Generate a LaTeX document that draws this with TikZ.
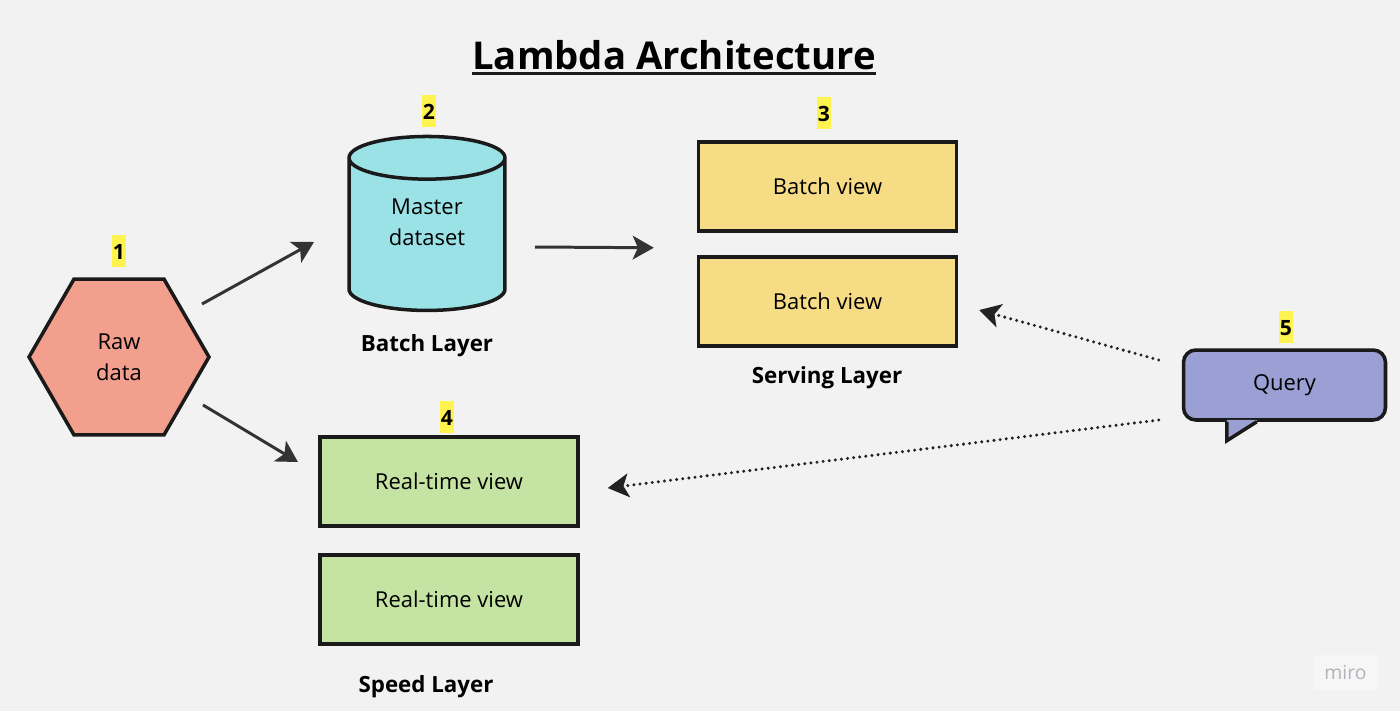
\documentclass[tikz,border=0pt]{standalone}
\usepackage{fontspec}
\setmainfont{Open Sans}
\usetikzlibrary{arrows.meta,shapes.geometric,calc}

\definecolor{bgcol}{HTML}{F2F2F2}
\definecolor{edgecol}{HTML}{1A1A1A}
\definecolor{arrowcol}{HTML}{333333}
\definecolor{dotcol}{HTML}{222222}
\definecolor{rawcol}{HTML}{F29F8D}
\definecolor{dbcol}{HTML}{9AE2E6}
\definecolor{batchcol}{HTML}{F6DC84}
\definecolor{speedcol}{HTML}{C5E3A2}
\definecolor{querycol}{HTML}{9A9FD4}
\definecolor{hlcol}{HTML}{FFF44F}
\definecolor{markcol}{HTML}{B2B2BA}

\tikzset{
  view/.style={draw=edgecol, line width=2pt, minimum width=5.16cm, minimum height=1.78cm,
    font=\fontsize{12.5}{15}\selectfont},
  num/.style={fill=hlcol, inner xsep=0.4pt, inner ysep=0pt, text height=14pt, text depth=4pt,
    font=\fontsize{12}{14}\bfseries\selectfont},
  layer/.style={font=\fontsize{12.7}{15}\bfseries\selectfont},
  flow/.style={draw=arrowcol, line width=1.7pt, -{Stealth[length=12pt,width=13.5pt,inset=3pt]}},
  ask/.style={flow, draw=dotcol, line width=1.9pt, dash pattern=on 0pt off 3.5pt, line cap=round}
}

\begin{document}
\begin{tikzpicture}[x=0.02cm,y=-0.02cm]
  \fill[bgcol] (0,0) rectangle (1400,711);

  % title
  \node[inner sep=0pt, text depth=0pt, font=\fontsize{21.8}{26}\bfseries\selectfont] (title) at (674,55) {Lambda Architecture};
  \draw[edgecol, line width=1.7pt] ($(title.south west)+(0,4)$) -- ($(title.south east)+(0,4)$);

  % raw data
  \node[regular polygon, regular polygon sides=6, minimum size=3.6cm, inner sep=0pt,
    draw=edgecol, fill=rawcol, line width=2pt, align=center, font=\fontsize{12.5}{17.5}\selectfont] (raw) at (119,357) {Raw\\data};
  \node[num] (n1) at (119,251) {1};

  % batch layer
  \node[cylinder, shape border rotate=90, aspect=0.56, minimum width=3.12cm, minimum height=3.48cm, inner sep=0pt,
    draw=edgecol, fill=dbcol, line width=2pt, align=center, font=\fontsize{12.5}{17.5}\selectfont] (master) at (427,235)
    {\phantom{Master}\\\phantom{dataset}};
  \node[align=center, font=\fontsize{12.5}{17.5}\selectfont] (mastertext) at (427,222) {Master\\dataset};
  \node[num] (n2) at (429,111) {2};
  \node[layer] (batchlayer) at (427,346) {Batch Layer};

  % serving layer
  \node[view, fill=batchcol] (bv1) at (827.5,186.5) {Batch view};
  \node[view, fill=batchcol] (bv2) at (827.5,301.5) {Batch view};
  \node[num] (n3) at (824,113) {3};
  \node[layer] (servinglayer) at (827,378) {Serving Layer};

  % speed layer
  \node[view, fill=speedcol] (rt1) at (449,481.5) {Real-time view};
  \node[view, fill=speedcol] (rt2) at (449,599.5) {Real-time view};
  \node[num] (n4) at (447,417) {4};
  \node[layer] (speedlayer) at (426,687) {Speed Layer};

  % query
  \node[minimum width=4.04cm, minimum height=1.4cm, inner sep=0pt, rounded corners=7pt,
    draw=edgecol, fill=querycol, line width=2pt, font=\fontsize{12.5}{15}\selectfont] (query) at (1284.5,385) {Query};
  \fill[querycol] ($(query.south west)+(45,-2)$) -- ($(query.south west)+(45,19)$) -- ($(query.south west)+(76,-2)$) -- cycle;
  \draw[edgecol, line width=2pt] ($(query.south west)+(45,0)$) -- ($(query.south west)+(45,19)$) -- ($(query.south west)+(75,0)$);
  \node[num] (n5) at (1286,327) {5};

  % arrows
  \draw[flow] ($(raw.center)+(83,-53)$) -- ($(master.center)+(-113,7)$);
  \draw[flow] ($(raw.center)+(84,48)$) -- ($(rt1.center)+(-151,-19.5)$);
  \draw[flow] ($(master.center)+(108,12)$) -- ($(bv1.south west)+(-43,15)$);
  \draw[ask] ($(query.west)+(-23,-25)$) -- ($(bv2.east)+(21,8.5)$);
  \draw[ask] ($(query.west)+(-23,35)$) -- ($(rt1.east)+(28,6.5)$);

  % watermark
  \node[fill=white, fill opacity=0.35, text opacity=1, text=markcol, minimum width=1.28cm, minimum height=0.7cm,
    inner sep=0pt, font=\fontsize{11}{13}\selectfont] (miro) at (1345.5,672.5) {miro};
\end{tikzpicture}
\end{document}
